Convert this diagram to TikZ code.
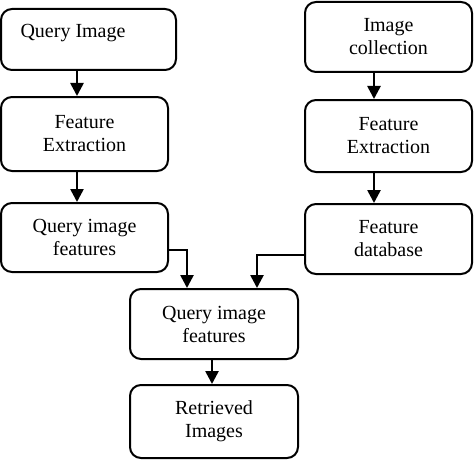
\documentclass[tikz,border=0pt]{standalone}
\usepackage{fontspec}
\setmainfont{Liberation Serif}
\usetikzlibrary{arrows.meta}
\begin{document}
\begin{tikzpicture}[x=1pt,y=-1pt,
  box/.style={draw,line width=2pt,rounded corners=11pt,align=center,
    inner sep=0pt,font=\fontsize{20}{23}\selectfont},
  conn/.style={line width=2.6pt,-{Triangle[width=13pt,length=13pt]}}]
\useasboundingbox (0,0) rectangle (474,460);
\node[box,minimum width=175pt,minimum height=61pt] (qi) at (88.5,39.5) {};
\node[font=\fontsize{20}{23}\selectfont] (qit) at (73,33) {Query Image};
\node[box,minimum width=167pt,minimum height=74pt] (fe1) at (84.5,134) {Feature\\Extraction};
\node[box,minimum width=167pt,minimum height=69pt] (qf1) at (84.5,237.5) {Query image\\features};
\node[box,minimum width=167pt,minimum height=70pt] (ic) at (388.5,37) {Image\\collection};
\node[box,minimum width=167pt,minimum height=72pt] (fe2) at (388.5,136) {Feature\\Extraction};
\node[box,minimum width=167pt,minimum height=70pt] (fd) at (388.5,239) {Feature\\database};
\node[box,minimum width=168pt,minimum height=70pt] (qf2) at (214,324) {Query image\\features};
\node[box,minimum width=168pt,minimum height=73pt] (ri) at (214,421.5) {Retrieved\\Images};
\coordinate (xl) at (77,0);
\coordinate (xr) at (374,0);
\coordinate (xa) at (187,250);
\coordinate (xb) at (257,255);
\coordinate (xc) at (212,0);
\draw[conn] (qi.south -| xl) -- (fe1.north -| xl);
\draw[conn] (fe1.south -| xl) -- (qf1.north -| xl);
\draw[conn] (ic.south -| xr) -- (fe2.north -| xr);
\draw[conn] (fe2.south -| xr) -- (fd.north -| xr);
\draw[conn] (qf1.east |- xa) -- (xa) -- (qf2.north -| xa);
\draw[conn] (fd.west |- xb) -- (xb) -- (qf2.north -| xb);
\draw[conn] (qf2.south -| xc) -- (ri.north -| xc);
\end{tikzpicture}
\end{document}
